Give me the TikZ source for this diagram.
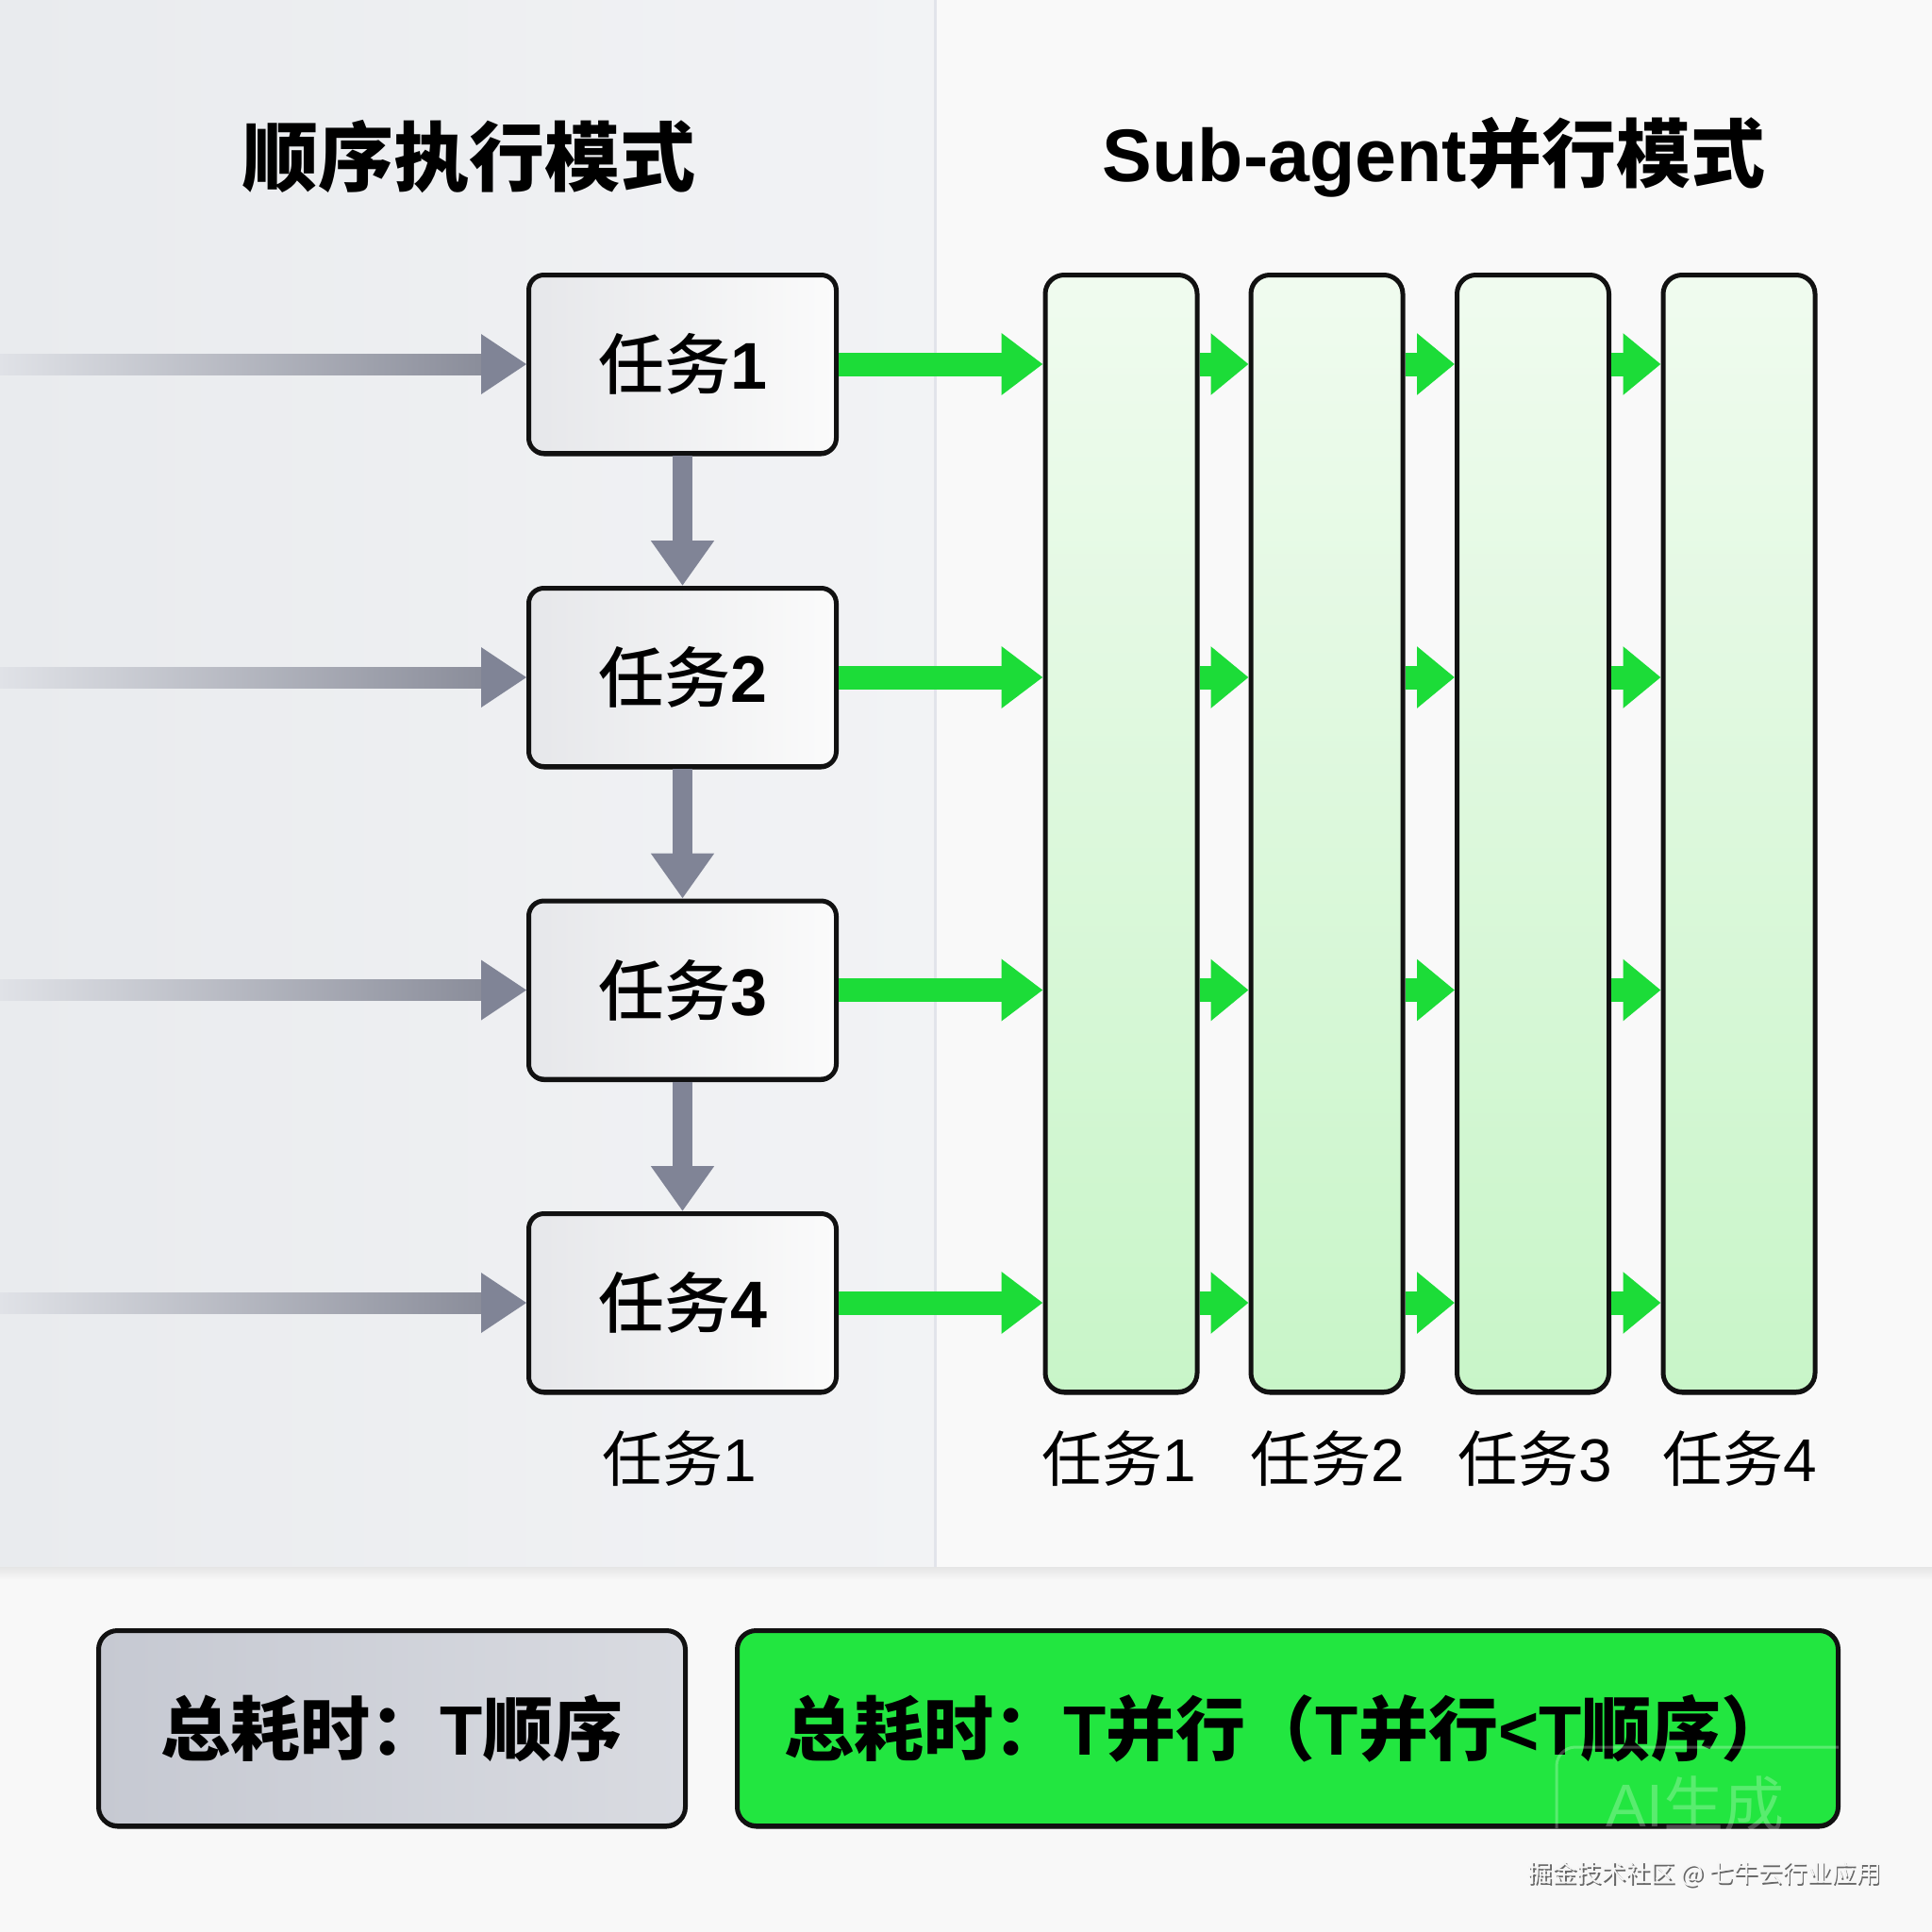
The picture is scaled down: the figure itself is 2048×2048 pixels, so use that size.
\documentclass[tikz,border=0pt]{standalone}
\usepackage{fontspec}
\setmainfont{Liberation Sans}
\newfontfamily\cjk{Noto Sans CJK SC}
\newfontfamily\cjkm{Noto Sans CJK SC Medium}
\usetikzlibrary{arrows.meta,calc,shadows}
\definecolor{leftbgA}{RGB}{233,235,238}
\definecolor{leftbgB}{RGB}{242,243,245}
\definecolor{rightbg}{RGB}{249,249,249}
\definecolor{botbg}{RGB}{248,248,248}
\definecolor{divline}{RGB}{226,228,234}
\definecolor{arrowgrey}{RGB}{128,132,150}
\definecolor{shaftlight}{RGB}{224,226,231}
\definecolor{shaftdark}{RGB}{138,141,154}
\definecolor{arrowgreen}{RGB}{28,220,56}
\definecolor{boxgreen}{RGB}{34,230,64}
\definecolor{colgreenA}{RGB}{240,251,239}
\definecolor{colgreenB}{RGB}{200,245,200}
\definecolor{taskA}{RGB}{230,231,234}
\definecolor{taskB}{RGB}{251,251,251}
\definecolor{sumgreyA}{RGB}{198,201,210}
\definecolor{sumgreyB}{RGB}{217,219,225}
\definecolor{edge}{RGB}{17,17,17}
\tikzset{
  taskbox/.style={draw=edge, line width=5pt, rounded corners=16pt,
    minimum width=326pt, minimum height=189pt, left color=taskA, right color=taskB,
    drop shadow={shadow xshift=0pt, shadow yshift=-3pt, fill=edge, opacity=1},
    font=\fontsize{70}{80}\selectfont, inner sep=0pt},
  colbox/.style={draw=edge, line width=5pt, rounded corners=20pt,
    minimum width=161pt, minimum height=1184pt, top color=colgreenA, bottom color=colgreenB,
    drop shadow={shadow xshift=0pt, shadow yshift=-3pt, fill=edge, opacity=1}},
  sumbox/.style={draw=edge, line width=5pt, rounded corners=20pt, minimum height=207pt,
    drop shadow={shadow xshift=0pt, shadow yshift=-3pt, fill=edge, opacity=1},
    font=\bfseries\fontsize{74}{84}\selectfont, inner sep=0pt},
  lbl/.style={font=\fontsize{64}{72}\selectfont, inner sep=0pt},
  ttl/.style={font=\bfseries\fontsize{80}{90}\selectfont, inner sep=0pt},
  vgrey/.style={draw=arrowgrey, line width=21pt,
    -{Triangle[length=48pt,width=64pt]}, arrowgrey},
  garrow/.style={draw=arrowgreen, line width=25pt,
    -{Triangle[length=44pt,width=63pt]}, arrowgreen},
  gsmall/.style={draw=arrowgreen, line width=25pt,
    -{Triangle[length=40pt,width=63pt]}, arrowgreen},
}
\begin{document}
\begin{tikzpicture}[x=1pt,y=-1pt]
\useasboundingbox (0,0) rectangle (2048,2048);
% backgrounds
\fill[botbg] (0,0) rectangle (2048,2048);
\shade[left color=leftbgA, right color=leftbgB] (0,0) rectangle (991,1661);
\fill[rightbg] (991,0) rectangle (2048,1661);
\draw[divline, line width=3pt] (991,0) -- (991,1661);
\shade[top color=black!10, bottom color=botbg] (0,1661) rectangle (2048,1675);
% titles
\node[ttl] (tl) at (497,166) {\cjk 顺序执行模式};
\node[ttl, font=\bfseries\fontsize{79}{90}\selectfont] (tr) at (1520,167) {Sub-agent{\cjk 并行模式}};
% task boxes
\node[taskbox] (t1) at (723.5,386) {{\cjkm 任务}\textbf{1}};
\node[taskbox] (t2) at (723.5,718) {{\cjkm 任务}\textbf{2}};
\node[taskbox] (t3) at (723.5,1049.5) {{\cjkm 任务}\textbf{3}};
\node[taskbox] (t4) at (723.5,1381) {{\cjkm 任务}\textbf{4}};
% columns
\node[colbox] (c1) at (1188.5,883.5) {};
\node[colbox] (c2) at (1406.5,883.5) {};
\node[colbox] (c3) at (1625,883.5) {};
\node[colbox] (c4) at (1843.5,883.5) {};
% labels
\node[lbl] (l0) at (720,1546) {{\cjk 任务}1};
\node[lbl] (l1) at (1186,1546) {{\cjk 任务}1};
\node[lbl] (l2) at (1407,1546) {{\cjk 任务}2};
\node[lbl] (l3) at (1627,1546) {{\cjk 任务}3};
\node[lbl] (l4) at (1844,1546) {{\cjk 任务}4};
% grey input arrows
\foreach \i in {1,2,3,4}{
  \coordinate (in\i) at (0,0 |- t\i.west);
  \shade[left color=shaftlight, right color=shaftdark]
    ($(in\i)+(0,-11)$) rectangle ($(t\i.west)+(-46,11)$);
  \fill[arrowgrey] (t\i.west) -- ++(-48,-32) -- ++(0,64) -- cycle;
}
% vertical arrows
\draw[vgrey] (t1.south) -- (t2.north);
\draw[vgrey] (t2.south) -- (t3.north);
\draw[vgrey] (t3.south) -- (t4.north);
% green arrows
\foreach \i in {1,2,3,4}{
  \draw[garrow] (t\i.east) -- (c1.west |- t\i.east);
  \draw[gsmall] (c1.east |- t\i.east) -- (c2.west |- t\i.east);
  \draw[gsmall] (c2.east |- t\i.east) -- (c3.west |- t\i.east);
  \draw[gsmall] (c3.east |- t\i.east) -- (c4.west |- t\i.east);
}
% summary boxes
\node[sumbox, minimum width=622pt, left color=sumgreyA, right color=sumgreyB] (s1) at (415.5,1832)
  {{\cjk 总耗时：}T{\cjk 顺序}};
\node[sumbox, minimum width=1167pt, fill=boxgreen] (s2) at (1365,1832)
  {{\cjk 总耗时：}T{\cjk 并行（}T{\cjk 并行}<T{\cjk 顺序）}};
% AI watermark
\begin{scope}
\clip[rounded corners=20pt] (777,1726) rectangle (1949,1938);
\draw[white, opacity=0.25, line width=3pt, rounded corners=20pt] (1650,1852) rectangle (1990,2040);
\node[white, opacity=0.25, font=\fontsize{64}{70}\selectfont, inner sep=0pt] (ai) at (1797,1912) {AI{\cjk 生成}};
\end{scope}
% credit
\node[gray!80!black, font=\fontsize{26}{30}\cjk, inner sep=0pt] (wm0) at (1808.5,1988.5) {掘金技术社区 @ 七牛云行业应用};
\node[white!93!gray, font=\fontsize{26}{30}\cjk, inner sep=0pt] (wm) at (1807,1987) {掘金技术社区 @ 七牛云行业应用};
\end{tikzpicture}
\end{document}
